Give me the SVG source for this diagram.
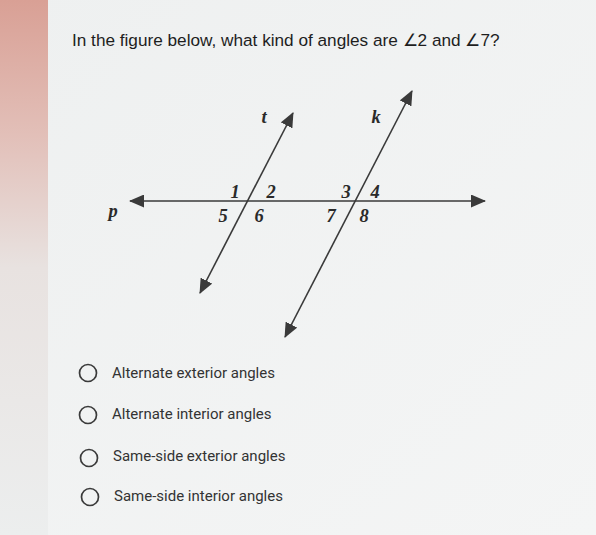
<svg xmlns="http://www.w3.org/2000/svg" width="596" height="535" viewBox="0 0 596 535">
<defs>
<linearGradient id="bg" x1="0" y1="0" x2="1" y2="1">
<stop offset="0" stop-color="#eef0f0"/>
<stop offset="1" stop-color="#f4f5f5"/>
</linearGradient>
<linearGradient id="edge" x1="0" y1="0" x2="0" y2="1">
<stop offset="0" stop-color="#d9a095"/>
<stop offset="0.25" stop-color="#e2bfb8"/>
<stop offset="0.5" stop-color="#e8e2e0"/>
<stop offset="1" stop-color="#eceeee"/>
</linearGradient>
<marker id="ah" viewBox="0 0 15 13" refX="14" refY="6.5" markerWidth="15" markerHeight="13" markerUnits="userSpaceOnUse" orient="auto-start-reverse">
<path d="M0,0 L15,6.5 L0,13 z" fill="#3a3a3a"/>
</marker>
<style>
.ln{stroke:#3a3a3a;stroke-width:1.6;fill:none;marker-start:url(#ah);marker-end:url(#ah)}
.lb{font-family:"Liberation Serif",serif;font-style:italic;font-weight:bold;font-size:18.5px;fill:#2a2a2a;text-anchor:middle}
.q{font-family:"Liberation Sans",Arial,sans-serif;font-size:17.2px;fill:#1e1e1e}
.op{font-family:Roboto,"Liberation Sans",sans-serif;font-size:15px;fill:#333}
.rb{fill:none;stroke:#3a3a3a;stroke-width:1.7}
</style>
</defs>
<rect width="596" height="535" fill="url(#bg)"/>
<rect x="0" y="0" width="48" height="535" fill="url(#edge)"/>
<text class="q" x="72" y="46">In the figure below, what kind of angles are ∠2 and ∠7?</text>
<g id="connectors">
<line class="ln" x1="130" y1="201" x2="485" y2="201"/>
<line class="ln" x1="200" y1="293" x2="293" y2="113"/>
<line class="ln" x1="285" y1="337" x2="412" y2="91"/>
</g>
<g id="labels">
<text class="lb" x="264" y="123">t</text>
<text class="lb" x="376" y="123">k</text>
<text class="lb" x="113" y="217">p</text>
<text class="lb" x="235" y="198">1</text>
<text class="lb" x="271" y="198">2</text>
<text class="lb" x="346" y="198">3</text>
<text class="lb" x="375" y="198">4</text>
<text class="lb" x="223" y="222">5</text>
<text class="lb" x="259" y="222">6</text>
<text class="lb" x="331" y="222">7</text>
<text class="lb" x="364" y="222">8</text>
</g>
<g id="opt1"><circle class="rb" cx="88" cy="373" r="8.5"/><text class="op" x="112" y="378">Alternate exterior angles</text></g>
<g id="opt2"><circle class="rb" cx="88" cy="415" r="8.5"/><text class="op" x="112" y="419">Alternate interior angles</text></g>
<g id="opt3"><circle class="rb" cx="89" cy="458" r="8.5"/><text class="op" x="113" y="461">Same-side exterior angles</text></g>
<g id="opt4"><circle class="rb" cx="90" cy="497" r="8.5"/><text class="op" x="114" y="501">Same-side interior angles</text></g>
</svg>
